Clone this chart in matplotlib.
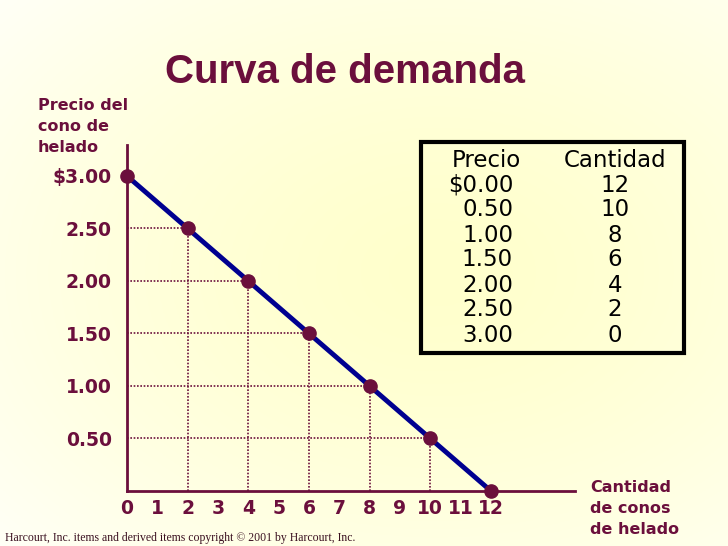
import matplotlib.pyplot as plt
import numpy as np

# demand schedule
precio = [0.00, 0.50, 1.00, 1.50, 2.00, 2.50, 3.00]
cantidad = [12, 10, 8, 6, 4, 2, 0]
precio_labels = ["$0.00", "0.50", "1.00", "1.50", "2.00", "2.50", "3.00"]
y_ticks = [0.50, 1.00, 1.50, 2.00, 2.50, 3.00]
y_ticklabels = ["0.50", "1.00", "1.50", "2.00", "2.50", "$3.00"]
x_ticks = list(range(0, 13))

maroon = "#6b0f3c"
navy = "#000090"

fig = plt.figure(figsize=(7.28, 5.46), dpi=100)

# soft cream/yellow background
bg = fig.add_axes([0, 0, 1, 1], zorder=-10)
yy, xx = np.mgrid[0:1:200j, 0:1:260j]
r = np.sqrt(((xx - 0.6) / 0.8) ** 2 + ((yy - 0.5) / 0.75) ** 2)
t = np.clip(r, 0, 1) ** 1.5
c_in = np.array([1.0, 1.0, 0.80])
c_out = np.array([1.0, 1.0, 0.965])
img = c_in[None, None, :] * (1 - t[..., None]) + c_out[None, None, :] * t[..., None]
bg.imshow(img, aspect="auto", extent=[0, 1, 0, 1], origin="lower")
bg.axis("off")

ax = fig.add_axes([127 / 728, 55 / 546, 448 / 728, 346 / 546])
ax.patch.set_alpha(0)
ax.set_xlim(0, 14.77)
ax.set_ylim(0, 3.295)

for s in ["top", "right"]:
    ax.spines[s].set_visible(False)
for s in ["left", "bottom"]:
    ax.spines[s].set_color(maroon)
    ax.spines[s].set_linewidth(2)

# dotted guide lines
for q, p in zip(cantidad, precio):
    if q > 0 and p > 0:
        ax.plot([0, q], [p, p], ls=(0, (1, 1)), color=maroon, lw=1.2, zorder=1)
        ax.plot([q, q], [0, p], ls=(0, (1, 1)), color=maroon, lw=1.2, zorder=1)

ax.plot(cantidad, precio, color=navy, lw=3.5, zorder=2, solid_capstyle="butt")
ax.plot(cantidad, precio, "o", color=maroon, ms=9.5, zorder=3, clip_on=False)

ax.set_yticks(y_ticks)
ax.set_yticklabels(y_ticklabels)
ax.set_xticks(x_ticks)
ax.set_xticklabels([str(v) for v in x_ticks])
ax.tick_params(length=0, colors=maroon, labelsize=13.5, pad=11)
ax.tick_params(axis="x", pad=6)
for lab in ax.get_xticklabels() + ax.get_yticklabels():
    lab.set_fontweight("bold")

fig.text(345 / 728, 1 - 72 / 546, "Curva de demanda", ha="center", va="center",
         fontsize=29, fontweight="bold", color=maroon, family="Liberation Sans")
fig.text(38 / 728, 1 - 98 / 546, "Precio del\ncono de\nhelado", ha="left", va="top",
         fontsize=11.5, fontweight="bold", color=maroon, linespacing=1.5)
fig.text(590 / 728, 1 - 480 / 546, "Cantidad\nde conos\nde helado", ha="left", va="top",
         fontsize=11.5, fontweight="bold", color=maroon, linespacing=1.5)
fig.text(5 / 728, 1 - 541 / 546, "Harcourt, Inc. items and derived items copyright \u00a9 2001 by Harcourt, Inc.",
         ha="left", va="baseline", fontsize=8.5, color="#3a1020", family="Liberation Serif")

# table box
box = plt.Rectangle((421 / 728, 1 - 353 / 546), 263 / 728, 211 / 546, transform=fig.transFigure,
                    fill=False, ec="black", lw=3, zorder=5)
fig.add_artist(box)
row_y0 = 160
row_dy = 25
fs = 16.5
fig.text(486 / 728, 1 - row_y0 / 546, "Precio", ha="center", va="center", fontsize=fs, color="black")
fig.text(615 / 728, 1 - row_y0 / 546, "Cantidad", ha="center", va="center", fontsize=fs, color="black")
for i, (pl, q) in enumerate(zip(precio_labels, cantidad)):
    yp = 1 - (row_y0 + row_dy * (i + 1)) / 546
    fig.text(513 / 728, yp, pl, ha="right", va="center", fontsize=fs, color="black")
    fig.text(615 / 728, yp, str(q), ha="center", va="center", fontsize=fs, color="black")

fig.savefig("out.png", dpi=100)
